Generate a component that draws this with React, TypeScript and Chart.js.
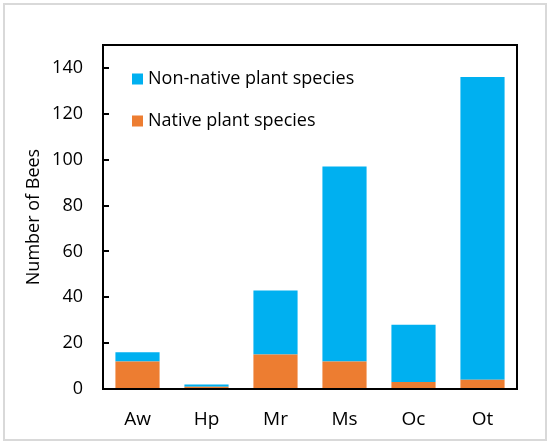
import React, { useEffect, useRef } from "react";
import { Chart, registerables } from "chart.js";

Chart.register(...registerables);

const categories = ["Aw", "Hp", "Mr", "Ms", "Oc", "Ot"];
const nativeValues = [12, 1, 15, 12, 3, 4];
const nonNativeValues = [4, 1, 28, 85, 25, 132];
const seriesLabels = ["Native plant species", "Non-native plant species"];
const seriesColors = ["#ED7D31", "#00B0F0"];
const yTitle = "Number of Bees";

const FONT = "'Open Sans', sans-serif";

const framePlugin = {
  id: "frame",
  beforeDraw(chart: any) {
    const { ctx } = chart;
    ctx.save();
    ctx.fillStyle = "#ffffff";
    ctx.fillRect(0, 0, chart.width, chart.height);
    ctx.strokeStyle = "#d9d9d9";
    ctx.lineWidth = 2;
    ctx.strokeRect(4, 4, chart.width - 8, chart.height - 9);
    ctx.restore();
  },
  afterDraw(chart: any) {
    const { ctx, chartArea } = chart;
    const ys = chart.scales.y;
    ctx.save();
    ctx.strokeStyle = "#000000";
    ctx.lineWidth = 2;
    ctx.strokeRect(chartArea.left, chartArea.top, chartArea.right - chartArea.left, chartArea.bottom - chartArea.top);
    ctx.beginPath();
    for (const t of ys.ticks) {
      const py = Math.round(ys.getPixelForValue(t.value));
      if (t.value <= ys.min || t.value >= ys.max) continue;
      ctx.moveTo(chartArea.left, py);
      ctx.lineTo(chartArea.left + 6, py);
    }
    ctx.stroke();
    // legend inside plot
    const items = [
      { label: seriesLabels[1], color: seriesColors[1], y: 79 },
      { label: seriesLabels[0], color: seriesColors[0], y: 121 },
    ];
    ctx.font = `18px ${FONT}`;
    ctx.textBaseline = "middle";
    ctx.textAlign = "left";
    for (const it of items) {
      ctx.fillStyle = it.color;
      ctx.fillRect(132, it.y - 5.5, 11, 11);
      ctx.fillStyle = "#000000";
      ctx.fillText(it.label, 148, it.y);
    }
    ctx.restore();
  },
};

export default function App() {
  const ref = useRef<HTMLCanvasElement>(null);
  useEffect(() => {
    document.body.style.margin = "0";
    const chart = new Chart(ref.current!, {
      type: "bar",
      data: {
        labels: categories,
        datasets: [
          {
            label: seriesLabels[0],
            data: nativeValues,
            backgroundColor: seriesColors[0],
            barPercentage: 0.64,
            categoryPercentage: 1,
          },
          {
            label: seriesLabels[1],
            data: nonNativeValues,
            backgroundColor: seriesColors[1],
            barPercentage: 0.64,
            categoryPercentage: 1,
          },
        ],
      },
      options: {
        responsive: false,
        animation: false,
        devicePixelRatio: 1,
        layout: { padding: { top: 45, right: 33, left: 0, bottom: 0 } },
        plugins: {
          legend: { display: false },
          tooltip: { enabled: false },
        },
        scales: {
          x: {
            stacked: true,
            grid: { display: false, drawTicks: false },
            border: { display: false },
            ticks: { color: "#000", font: { family: FONT, size: 19 }, padding: 19 },
            afterFit(scale: any) {
              scale.height = 56;
            },
          },
          y: {
            stacked: true,
            min: 0,
            max: 150,
            grid: { display: false, drawTicks: false },
            border: { display: false },
            ticks: {
              stepSize: 10,
              color: "#000",
              font: { family: FONT, size: 18 },
              padding: 20,
              callback: (v: any) => (Number(v) % 20 === 0 && Number(v) < 150 ? String(v) : ""),
            },
            title: {
              display: true,
              text: yTitle,
              color: "#000",
              font: { family: FONT, size: 18 },
              padding: { top: 23, bottom: 0 },
            },
            afterFit(scale: any) {
              scale.width = 103;
            },
          },
        },
      },
      plugins: [framePlugin],
    });
    return () => chart.destroy();
  }, []);
  return <canvas ref={ref} width={550} height={445} style={{ display: "block" }} />;
}
